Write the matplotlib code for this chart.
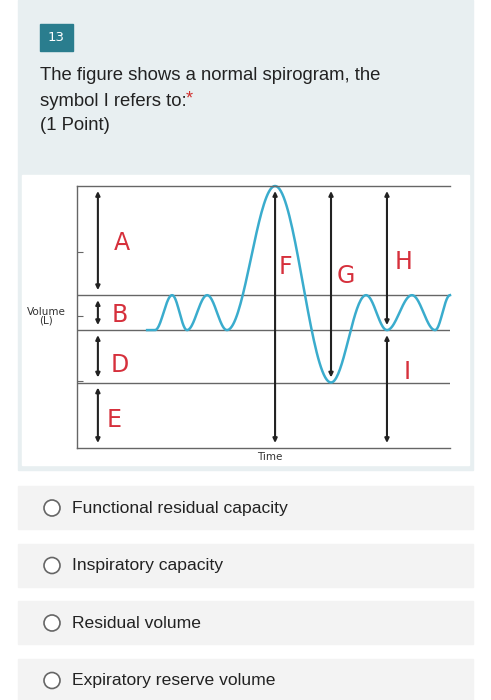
import matplotlib
matplotlib.use("Agg")
import matplotlib.pyplot as plt
import numpy as np
from matplotlib.patches import Rectangle, Circle

# ---- data ----
question_number = "13"
question_lines = ["The figure shows a normal spirogram, the", "symbol I refers to: ", "(1 Point)"]
options = ["Functional residual capacity", "Inspiratory capacity", "Residual volume", "Expiratory reserve volume"]

levels = [0, 1.5, 2.7, 3.5, 6.0]
tick_vals = [1.53, 3.02, 4.49]
curve_t = [18.8, 20.9, 25.5, 29.5, 34.9, 40.2, 53.1, 68.1, 77.5, 83.1, 89.8, 96.0, 100.0]
curve_v = [2.7, 2.7, 3.5, 2.7, 3.5, 2.7, 6.0, 1.5, 3.5, 2.7, 3.5, 2.7, 3.5]
arrows = [(5.6, 3.5, 6.0), (5.6, 2.7, 3.5), (5.6, 1.5, 2.7), (5.6, 0.0, 1.5),
          (53.1, 0.0, 6.0), (68.1, 1.5, 6.0), (83.1, 2.7, 6.0), (83.1, 0.0, 2.7)]
letters = ["A", "B", "D", "E", "F", "G", "H", "I"]
letter_pos = [(12, 4.7), (11.5, 3.05), (11.5, 1.9), (10, 0.65),
              (56, 4.15), (72, 3.95), (87.5, 4.25), (88.5, 1.75)]

fig = plt.figure(figsize=(4.91, 7.0), dpi=100)
bg = fig.add_axes([0, 0, 1, 1])
bg.set_xlim(0, 491); bg.set_ylim(700, 0); bg.axis("off")

bg.add_patch(Rectangle((18, 0), 455, 470, color="#e8eff1", zorder=0))
bg.add_patch(Rectangle((22, 175), 447, 290, color="white", zorder=1))
bg.add_patch(Rectangle((40, 24), 33, 27, color="#2a7d8e", zorder=2))
bg.text(56.5, 37.5, question_number, color="white", fontsize=9.5, ha="center", va="center", zorder=3)
for i, ln in enumerate(question_lines):
    bg.text(40, 76 + 25 * i, ln, fontsize=13.3, color="#222222", va="center", family="Liberation Sans")
bg.text(186, 99, "*", fontsize=13, color="#d0302f", va="center", family="Liberation Sans")

for i, op in enumerate(options):
    y0 = 486 + 57.5 * i
    bg.add_patch(Rectangle((18, y0), 455, 43, color="#f3f3f3", zorder=0))
    bg.add_patch(Circle((52, y0 + 22), 8, facecolor="white", edgecolor="#666666", lw=1.2, zorder=2))
    bg.text(72, y0 + 22, op, fontsize=12.6, color="#222222", va="center", family="Liberation Sans")

ax = fig.add_axes([77 / 491, (700 - 448) / 700, (450 - 77) / 491, (448 - 186) / 700])
ax.set_xlim(0, 100); ax.set_ylim(0, 6)
ax.patch.set_alpha(0)
ax.spines["right"].set_visible(False)
for s in ["left", "top", "bottom"]:
    ax.spines[s].set_color("#666666"); ax.spines[s].set_linewidth(1)
ax.set_xticks([])
ax.set_yticks(tick_vals); ax.set_yticklabels([])
ax.tick_params(axis="y", direction="in", length=4, color="#666666")
for lv in levels[1:4]:
    ax.axhline(lv, color="#666666", lw=1)

ts, vs = [], []
for i in range(len(curve_t) - 1):
    s = np.linspace(0, 1, 40)
    ts.append(curve_t[i] + (curve_t[i + 1] - curve_t[i]) * s)
    vs.append(curve_v[i] + (curve_v[i + 1] - curve_v[i]) * (1 - np.cos(np.pi * s)) / 2)
ax.plot(np.concatenate(ts), np.concatenate(vs), color="#3aaccd", lw=1.8, clip_on=False)

for t, a, b in arrows:
    ax.annotate("", xy=(t, b - 0.05), xytext=(t, a + 0.05),
                arrowprops=dict(arrowstyle="<|-|>,head_length=0.25,head_width=0.12", color="#222222", lw=1.5))
for l, (x, y) in zip(letters, letter_pos):
    ax.text(x, y, l, color="#d6303c", fontsize=17, ha="center", va="center", family="DejaVu Sans")

bg.text(46, 316, "Volume\n(L)", fontsize=7.5, ha="center", va="center", color="#333333", linespacing=0.85)
bg.text(270, 457, "Time", fontsize=7.5, ha="center", va="center", color="#333333")

fig.savefig("out.png", dpi=100)
